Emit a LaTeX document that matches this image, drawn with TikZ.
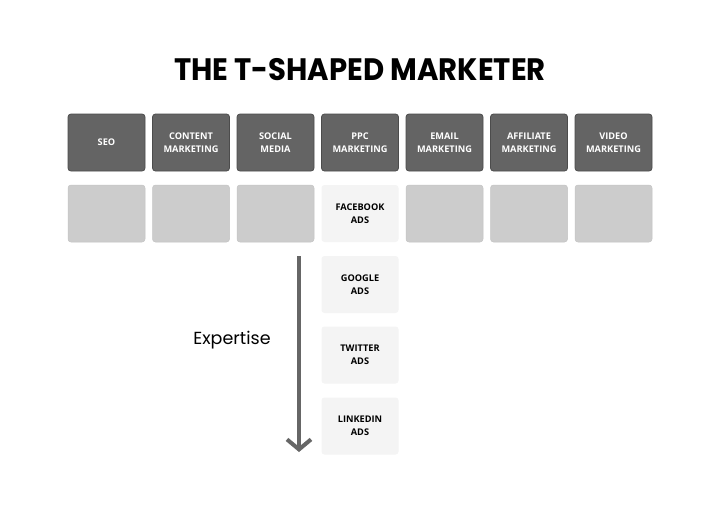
\documentclass[tikz,border=0pt]{standalone}
\usepackage{fontspec}
\setmainfont{Poppins}
\newfontfamily\boxfont{Open Sans}
\usetikzlibrary{arrows.meta}
\definecolor{darkbox}{HTML}{646464}
\definecolor{darkedge}{HTML}{4C4C4C}
\definecolor{lightbox}{HTML}{CCCCCC}
\definecolor{lightedge}{HTML}{C4C4C4}
\definecolor{palebox}{HTML}{F4F4F4}
\definecolor{arrowgray}{HTML}{666666}
\tikzset{
  skill/.style={rectangle, rounded corners=3pt, minimum width=77pt, minimum height=57pt,
    inner sep=1pt, align=center, font=\boxfont\bfseries\fontsize{9.2}{12.8}\selectfont},
  topbox/.style={skill, fill=darkbox, draw=darkedge, line width=0.8pt, text=white},
  graybox/.style={skill, fill=lightbox, draw=lightedge, line width=0.5pt},
  deepbox/.style={skill, fill=palebox, draw=none, text=black},
}
\begin{document}
\begin{tikzpicture}[x=1pt,y=-1pt]
\useasboundingbox[fill=white] (0,0) rectangle (720,504);
\node[font=\bfseries\fontsize{31}{36}\selectfont] (title) at (360,70) {\scalebox{0.94}[1]{THE T-SHAPED MARKETER}};
\node[topbox] (seo) at (106.5,142.5) {SEO};
\node[topbox] (content) at (191,142.5) {CONTENT\\MARKETING};
\node[topbox] (social) at (275.5,142.5) {SOCIAL\\MEDIA};
\node[topbox] (ppc) at (360,142.5) {PPC\\MARKETING};
\node[topbox] (email) at (444.5,142.5) {EMAIL\\MARKETING};
\node[topbox] (affiliate) at (529,142.5) {AFFILIATE\\MARKETING};
\node[topbox] (video) at (613.5,142.5) {VIDEO\\MARKETING};
\node[graybox] (g1) at (106.5,213.5) {};
\node[graybox] (g2) at (191,213.5) {};
\node[graybox] (g3) at (275.5,213.5) {};
\node[deepbox] (facebook) at (360,213.5) {FACEBOOK\\ADS};
\node[graybox] (g5) at (444.5,213.5) {};
\node[graybox] (g6) at (529,213.5) {};
\node[graybox] (g7) at (613.5,213.5) {};
\node[deepbox] (google) at (360,284.5) {GOOGLE\\ADS};
\node[deepbox] (twitter) at (360,355) {TWITTER\\ADS};
\node[deepbox] (linkedin) at (360,426) {LINKEDIN\\ADS};
\coordinate (astart) at (299,256);
\coordinate (aend) at (299,452);
\draw[arrowgray, line width=4pt, -{Straight Barb[length=10pt,width=24pt,line width=4pt]}] (astart) -- (aend);
\node[font=\fontsize{17.5}{20}\selectfont] (expertise) at (232,340) {Expertise};
\end{tikzpicture}
\end{document}
